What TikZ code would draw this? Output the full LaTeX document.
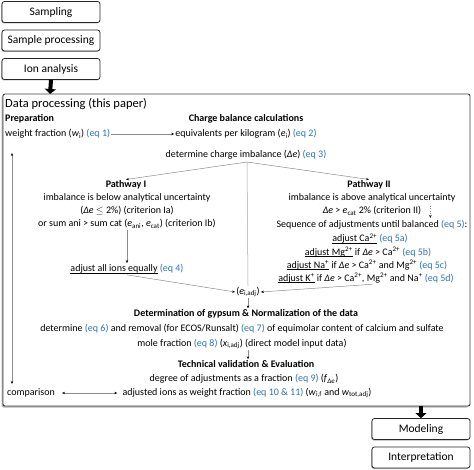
\documentclass[tikz,border=0pt]{standalone}
\usepackage{fontspec}
\setmainfont{Carlito}
\usetikzlibrary{arrows.meta,shadows}
\definecolor{eqblue}{RGB}{46,117,182}
\newcommand{\eqr}[1]{\textcolor{eqblue}{(eq #1)}}
\newcommand{\vi}[2]{\textit{#1}\textsubscript{#2}}
\newcommand{\uln}[1]{\underline{\smash{#1}}}
\begin{document}
\begin{tikzpicture}[x=1pt,y=-1pt,
  font=\fontsize{10}{11}\selectfont,
  every node/.style={inner sep=1pt},
  topbox/.style={draw=black!85, line width=0.8pt, rounded corners=2.5pt, minimum width=98pt, minimum height=21pt,
     font=\fontsize{11.5}{12}\selectfont, fill=white,
     drop shadow={shadow xshift=-0.8pt, shadow yshift=-1pt, fill=black!30, opacity=1}},
  hd/.style={font=\fontsize{10}{11}\selectfont\bfseries},
  conn/.style={draw=black!45, line width=0.5pt, -{Stealth[length=3pt,width=2.4pt,black]}},
  dconn/.style={draw=black!45, line width=0.5pt, {Stealth[length=3pt,width=2.4pt,black]}-{Stealth[length=3pt,width=2.4pt,black]}},
  plain/.style={draw=black!35, line width=0.5pt},
  bigarrow/.style={-{Triangle[length=5pt,width=11pt]}, line width=4pt, black}
]
\useasboundingbox (0,0) rectangle (474,470);

% top boxes
\node[topbox] (samp) at (51,12) {Sampling};
\node[topbox] (proc) at (51,40.5) {Sample processing};
\node[topbox] (ion) at (51,69) {Ion analysis};

% big box
\draw[draw=black!75, line width=0.9pt, rounded corners=2pt, fill=white,
      drop shadow={shadow xshift=-1.5pt, shadow yshift=-1.5pt, fill=black!30, opacity=1}]
      (3,94) rectangle (470,406);
\coordinate (bigtop) at (50,94);
\draw[bigarrow] (ion.south) -- (bigtop);

\node[anchor=west, font=\fontsize{12.5}{13}\selectfont] (dp) at (4,104) {Data processing (this paper)};
\node[anchor=west, hd] (prep) at (4,119) {Preparation};
\node[hd] (cbc) at (246,119) {Charge balance calculations};
\node[anchor=west] (wf) at (4,134) {weight fraction (\vi{w}{i}) \eqr{1}};
\node (epk) at (246,134) {equivalents per kilogram (\vi{e}{i}) \eqr{2}};
\draw[conn] (wf) -- (epk);
\node (dci) at (246,155) {determine charge imbalance (\textit{Δe}) \eqr{3}};
\coordinate (fan) at (247,162);

% pathway I
\node[hd] (p1) at (126,185) {Pathway I};
\node (p1a) at (127,198) {imbalance is below analytical uncertainty};
\node (p1b) at (127,211) {(\textit{Δe} $\leq$ 2\%) (criterion Ia)};
\node (p1c) at (127,224) {or sum ani > sum cat (\vi{e}{ani}, \vi{e}{cat}) (criterion Ib)};
\node (adj1) at (127,269) {\uln{adjust all ions equally} \eqr{4}};

% pathway II
\node[hd] (p2) at (369,185) {Pathway II};
\node (p2a) at (372,198) {imbalance is above analytical uncertainty};
\node (p2b) at (372,211) {\textit{Δe} > \vi{e}{cat} 2\% (criterion II)};
\node (p2c) at (372,225) {Sequence of adjustments until balanced \eqr{5}:};
\node (p2d) at (370,239) {\uln{adjust Ca\textsuperscript{2+}} \eqr{5a}};
\node (p2e) at (368,252) {\uln{adjust Mg\textsuperscript{2+}} if \textit{Δe} > Ca\textsuperscript{2+} \eqr{5b}};
\node (p2f) at (367,265) {\uln{adjust Na\textsuperscript{+}} if \textit{Δe} > Ca\textsuperscript{2+} and Mg\textsuperscript{2+} \eqr{5c}};
\node (p2g) at (366,278) {\uln{adjust K\textsuperscript{+}} if \textit{Δe} > Ca\textsuperscript{2+}, Mg\textsuperscript{2+} and Na\textsuperscript{+} \eqr{5d}};
\coordinate (smA) at ([xshift=8pt,yshift=5pt]p2b.east);
\coordinate (smB) at ([xshift=8pt,yshift=-7pt]p2b.east);
\draw[conn, dotted] (smA) -- (smB);

\node (eadj) at (248,292) {(\vi{e}{i,adj})};

\draw[conn] (fan) -- (p1.north);
\draw[conn] (fan) -- (p2.north);
\draw[plain] (fan) -- (eadj.north);
\draw[conn] (p1c) -- (adj1);
\draw[conn] (adj1.south) -- (eadj.west);
\draw[conn] ([xshift=6pt]p2g.south) -- (eadj.east);

% determination
\node[hd] (det) at (246,314) {Determination of gypsum \& Normalization of the data};
\node (det1) at (242,329) {determine \eqr{6} and removal (for ECOS/Runsalt) \eqr{7} of equimolar content of calcium and sulfate};
\node (det2) at (242,344) {mole fraction \eqr{8} (\vi{x}{i,adj}) (direct model input data)};
\draw[conn] (eadj.south) -- (eadj.south |- det.north);

% technical validation
\node[hd] (tv) at (246,364) {Technical validation \& Evaluation};
\node (tv1) at (244,379) {degree of adjustments as a fraction \eqr{9} (\textit{f}\textsubscript{\textit{Δe}})};
\node (tv2) at (247,393) {adjusted ions as weight fraction \eqr{10 \& 11} (\vi{w}{i,f} and \vi{w}{tot,adj})};
\draw[conn] (det2.south -| eadj) -- (tv.north -| eadj);
\node (comp) at (31,393) {comparison};
\draw[dconn] ([xshift=6pt]comp.east) -- ([xshift=-4pt]tv2.west);
\coordinate (lt) at (12,153);
\coordinate (lb) at (12,384);
\draw[dconn] (lt) -- (lb);

% bottom boxes
\node[topbox] (mod) at (421,429) {Modeling};
\node[topbox] (interp) at (421,457.5) {Interpretation};
\coordinate (bigbot) at (421,406);
\draw[bigarrow] (bigbot) -- (mod.north);
\end{tikzpicture}
\end{document}
